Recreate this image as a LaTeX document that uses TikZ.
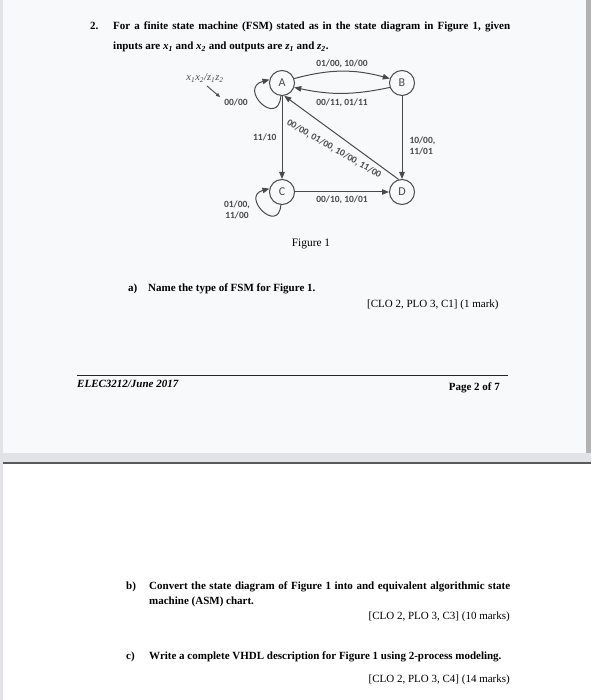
\documentclass[tikz,border=0pt]{standalone}
\usepackage{fontspec}
\setmainfont{Liberation Serif}
\newfontfamily\diagfont{Carlito}
\usetikzlibrary{arrows.meta,positioning}
\definecolor{inkgrey}{HTML}{4A4A4A}
\definecolor{scangrey}{HTML}{E2E3E6}
\definecolor{pagetint}{HTML}{F8F9FB}
\newcommand{\qsize}{\fontsize{11}{13}\selectfont}
\newcommand{\sv}[2]{\textit{#1}\textsubscript{\textit{#2}}}

\begin{document}
\begin{tikzpicture}[x=1pt, y=1pt,
    state/.style={circle, draw=inkgrey, line width=1pt, minimum size=25pt, inner sep=0pt,
      font=\diagfont\fontsize{12}{12}\selectfont, text=inkgrey},
    trans/.style={draw=inkgrey, line width=1pt, -{Triangle[length=7pt,width=5.5pt]}},
    lbl/.style={font=\diagfont\bfseries\fontsize{9.5}{11}\selectfont, text=inkgrey, inner sep=0pt},
    qtext/.style={font=\bfseries\qsize, inner sep=0pt},
    ctext/.style={font=\qsize, inner sep=0pt}]
    \useasboundingbox (0,0) rectangle (591,-700);
    % scanned sheets
    \fill[scangrey] (0,0) rectangle (591,-700);
    \fill[pagetint] (3,0) rectangle (586,-453);
    \fill[black!30] (586,0) rectangle (591,-453);
    \fill[white] (3,-464) rectangle (591,-700);
    \draw[black!65, line width=1.5pt] (3,-463) -- (591,-463);

    % question 2
    \node[qtext, anchor=base west] (qnum) at (90,-30) {2.};
    \node[qtext, anchor=base west] (qline1) at (113,-30)
      {\makebox[397pt][s]{For a finite state machine (FSM) stated as in the state diagram in Figure 1, given}};
    \node[qtext, anchor=base west] (qline2) at (113,-50)
      {inputs are \sv{x}{1} and \sv{x}{2} and outputs are \sv{z}{1} and \sv{z}{2}.};

    % state diagram
    \node[state] (A) at (282,-83) {A};
    \node[state] (B) at (402,-83) {B};
    \node[state] (C) at (282,-192) {C};
    \node[state] (D) at (402,-192) {D};

    \node[font=\itshape\fontsize{10.5}{11}\selectfont, text=inkgrey, inner sep=0pt] (legend) at (205,-78)
      {x\textsubscript{1}x\textsubscript{2}/z\textsubscript{1}z\textsubscript{2}};
    \coordinate (legtail) at (207,-86);
    \coordinate (leghead) at (220,-97);
    \draw[inkgrey, line width=0.9pt, -{Triangle[length=4pt,width=3.5pt]}] (legtail) -- (leghead);

    \draw[trans] (A.20) to[bend left=15] node[lbl, above=3pt] (lblAB) {01/00, 10/00} (B.160);
    \draw[trans] (B.200) to[bend left=12] node[lbl, below=5pt] (lblBA) {00/11, 01/11} (A.-20);
    \draw[trans] (A.-95) .. controls +(-95:33) and +(195:33) .. (A.165);
    \node[lbl] (lblAA) at (236,-102) {00/00};
    \draw[trans] (A) -- node[lbl, left=5pt] (lblAC) {11/10} (C);
    \draw[trans] (B) -- node[lbl, pos=0.6, right=7pt, align=left] (lblBD) {10/00,\\11/01} (D);
    \draw[trans] (C) -- node[lbl, below=3pt] (lblCD) {00/10, 10/01} (D);
    \draw[trans] (C.-95) .. controls +(-95:30) and +(195:30) .. (C.165);
    \node[lbl, align=center] (lblCC) at (237,-210) {01/00,\\11/00};
    \draw[trans] (D.105) -- (A.-80);
    \node[lbl, rotate=-30] (lblDA) at (334,-149) {00/00, 01/00, 10/00, 11/00};

    \node[ctext, font=\fontsize{11.4}{13}\selectfont] (figcap) at (311,-244) {Figure 1};

    % part a
    \node[qtext, anchor=base west] (pa) at (128,-291) {a)};
    \node[qtext, anchor=base west] (patext) at (148,-291) {Name the type of FSM for Figure 1.};
    \node[ctext, anchor=base west] (paclo) at (367,-307) {[CLO 2, PLO 3, C1] (1 mark)};

    % footer
    \draw[black!85, line width=0.8pt] (77,-375) -- (508,-375);
    \node[font=\bfseries\itshape\fontsize{11}{12}\selectfont, anchor=base west, inner sep=0pt] (exam) at (77,-387) {ELEC3212/June 2017};
    \node[font=\bfseries\fontsize{11}{12}\selectfont, anchor=base east, inner sep=0pt] (pageno) at (500,-390) {Page 2 of 7};

    % part b
    \node[qtext, anchor=base west] (pb) at (126,-589) {b)};
    \node[qtext, anchor=base west] (pbline1) at (149,-589)
      {\makebox[361pt][s]{Convert the state diagram of Figure 1 into and equivalent algorithmic state}};
    \node[qtext, anchor=base west] (pbline2) at (149,-604) {machine (ASM) chart.};
    \node[ctext, anchor=base east] (pbclo) at (510,-619) {[CLO 2, PLO 3, C3] (10 marks)};

    % part c
    \node[qtext, anchor=base west] (pc) at (126,-659) {c)};
    \node[qtext, anchor=base west] (pctext) at (149,-659) {Write a complete VHDL description for Figure 1 using 2-process modeling.};
    \node[ctext, anchor=base east] (pcclo) at (510,-682) {[CLO 2, PLO 3, C4] (14 marks)};
\end{tikzpicture}
\end{document}
